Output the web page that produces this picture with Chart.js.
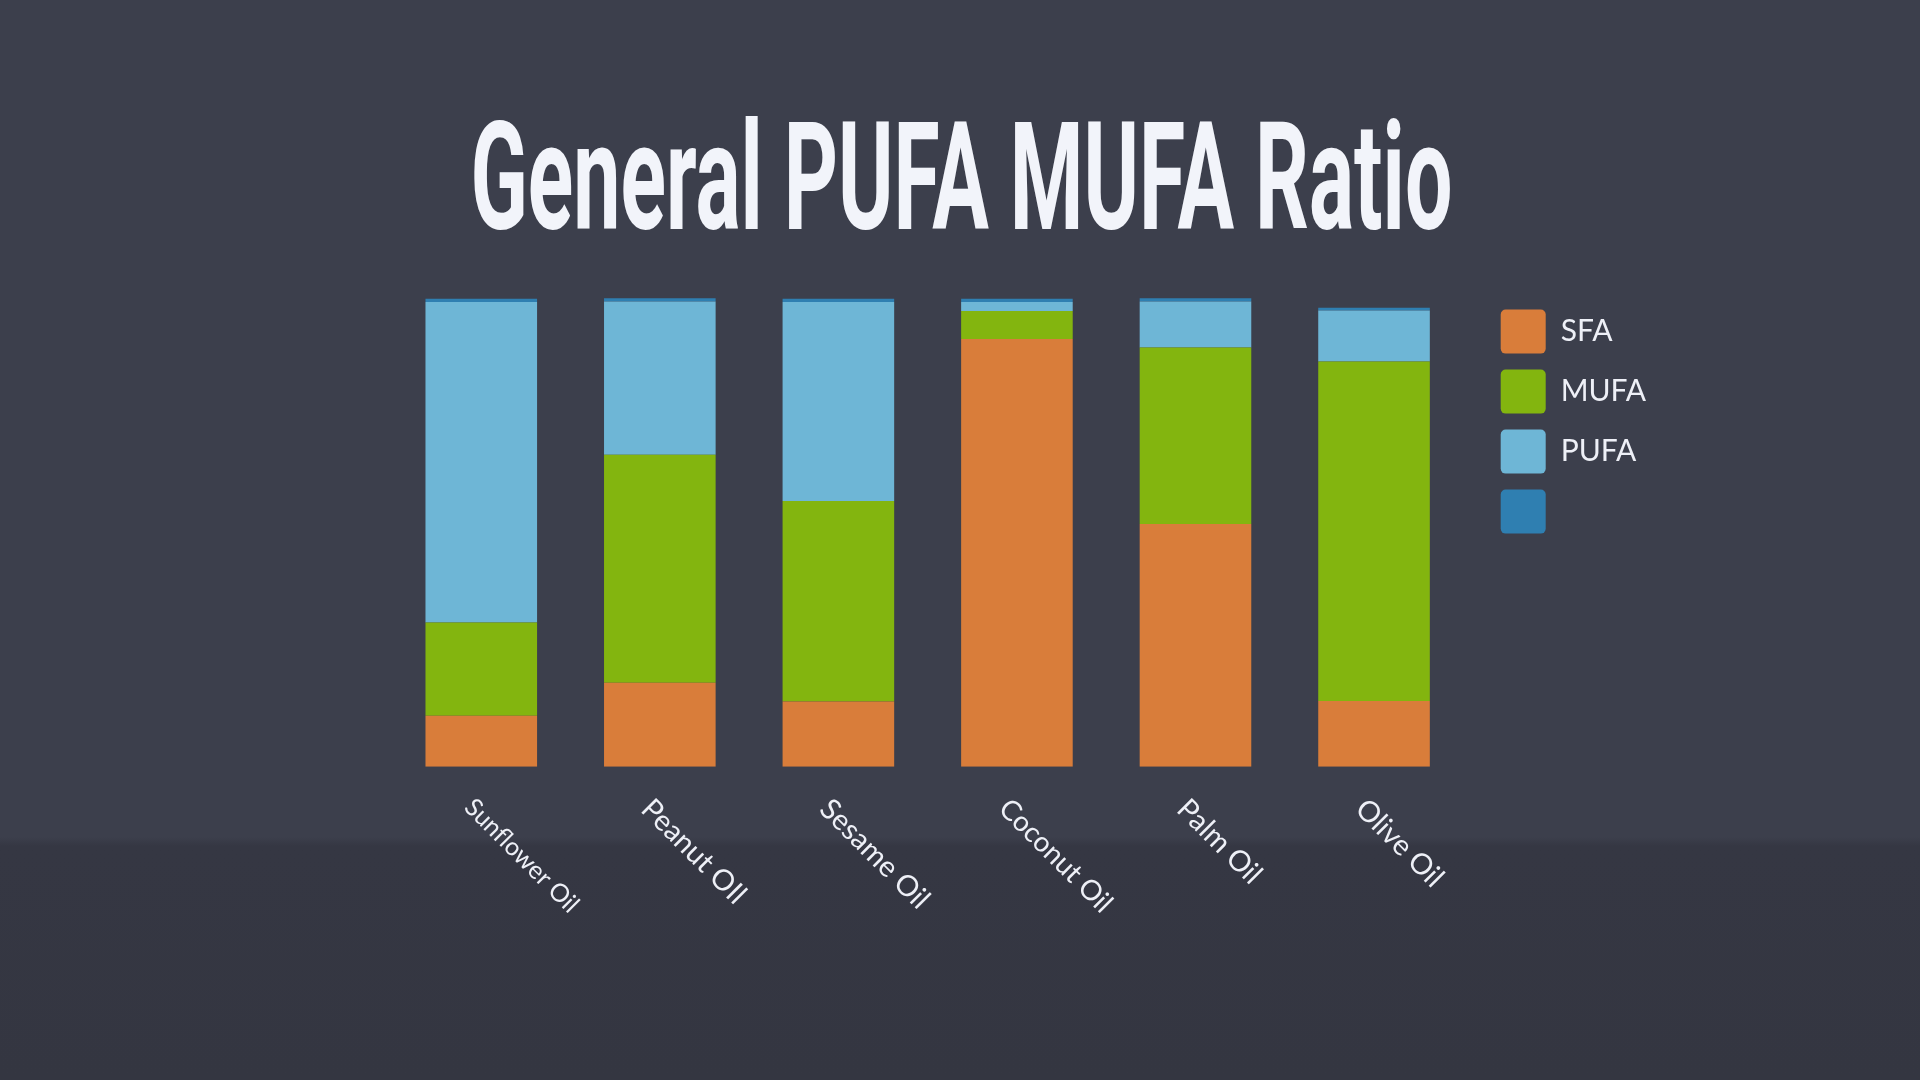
<!DOCTYPE html>
<html>
<head>
<meta charset="utf-8">
<script src="https://cdn.jsdelivr.net/npm/chart.js@4.4.1/dist/chart.umd.min.js"></script>
<style>
  html, body { margin: 0; padding: 0; }
  body {
    width: 1920px; height: 1080px; overflow: hidden; position: relative;
    background: linear-gradient(to bottom, #3c3f4c 0px, #3c3f4c 837px, #353743 846px, #343641 1080px);
  }
  #title {
    position: absolute; left: 0; top: 103px; width: 1920px; text-align: center;
    font-family: "Roboto", "Open Sans", sans-serif; font-weight: 700; font-size: 150.5px;
    line-height: 1; color: #f2f4fa; white-space: nowrap;
  }
  #title span { display: inline-block; transform-origin: 50% 50%; }
  #wrap { position: absolute; left: 0; top: 0; width: 1920px; height: 1080px; }
</style>
</head>
<body>
<div id="title"><span id="titleText">General PUFA MUFA Ratio</span></div>
<div id="wrap"><canvas id="c" width="1920" height="1080"></canvas></div>
<script>
const categories = ['Sunflower Oil', 'Peanut OIl', 'Sesame Oil', 'Coconut Oil', 'Palm Oil', 'Olive Oil'];
const seriesNames = ['SFA', 'MUFA', 'PUFA', ''];
const sfaValues   = [10.9, 17.9, 13.9, 91.3, 51.8, 14.0];
const mufaValues  = [19.9, 48.7, 42.8, 6.0, 37.7, 72.5];
const pufaValues  = [68.4, 32.7, 42.5, 1.9, 9.8, 10.9];
const otherValues = [0.7, 0.7, 0.7, 0.7, 0.7, 0.6];
const seriesColors = ['#d97d3a', '#83b50f', '#6eb6d6', '#2f7fb1'];

// Title: condensed look via horizontal scaling to target width
(function fitTitle(){
  const s = document.getElementById('titleText');
  const apply = () => {
    s.style.transform = 'none';
    const w = s.getBoundingClientRect().width;
    s.style.transform = 'translateX(1px) scaleX(' + (982 / w) + ')';
  };
  apply();
  if (document.fonts && document.fonts.ready) document.fonts.ready.then(apply);
})();

// x labels: rotated 45° clockwise, starting at each category tick
const labelFontSize = { 'Sunflower Oil': 25, 'Coconut Oil': 28 };
const xLabelPlugin = {
  id: 'xLabels',
  afterDatasetsDraw(chart) {
    const { ctx, scales: { x }, chartArea } = chart;
    ctx.save();
    ctx.fillStyle = '#eef0f7';
    ctx.textAlign = 'left';
    ctx.textBaseline = 'alphabetic';
    const c45 = Math.SQRT1_2;
    categories.forEach((c, i) => {
      const fs = labelFontSize[c] || 29;
      ctx.font = fs + 'px Lato';
      const capH = 0.72 * fs;
      const x0 = x.getPixelForValue(i) - 5.5;
      const y0 = chartArea.bottom + 29.3;
      ctx.save();
      ctx.translate(x0 - c45 * capH, y0 + c45 * capH);
      ctx.rotate(Math.PI / 4);
      ctx.fillText(c, 0, 0);
      ctx.restore();
    });
    ctx.restore();
  }
};

const valueSets = [sfaValues, mufaValues, pufaValues, otherValues];

new Chart(document.getElementById('c'), {
  type: 'bar',
  data: {
    labels: categories,
    datasets: valueSets.map((vals, i) => ({
      label: seriesNames[i],
      data: vals,
      backgroundColor: seriesColors[i],
      borderWidth: 0,
      categoryPercentage: 1,
      barPercentage: 0.625
    }))
  },
  options: {
    responsive: false,
    animation: false,
    devicePixelRatio: 1,
    layout: { padding: { left: 392, right: 270.3, top: 293.6, bottom: 313.3 } },
    scales: {
      x: { stacked: true, display: false },
      y: {
        stacked: true, position: 'right', min: 0, max: 101, display: true,
        ticks: { display: false }, grid: { display: false }, border: { display: false },
        afterFit(scale) { scale.width = 21.4; }
      }
    },
    plugins: {
      tooltip: { enabled: false },
      legend: {
        position: 'right', align: 'start', maxWidth: 165,
        labels: {
          boxWidth: 45, boxHeight: 44, padding: 16,
          useBorderRadius: true, borderRadius: 5,
          color: '#eef0f7',
          font: { family: 'Lato', size: 30 }
        }
      }
    }
  },
  plugins: [xLabelPlugin]
});
</script>
</body>
</html>
